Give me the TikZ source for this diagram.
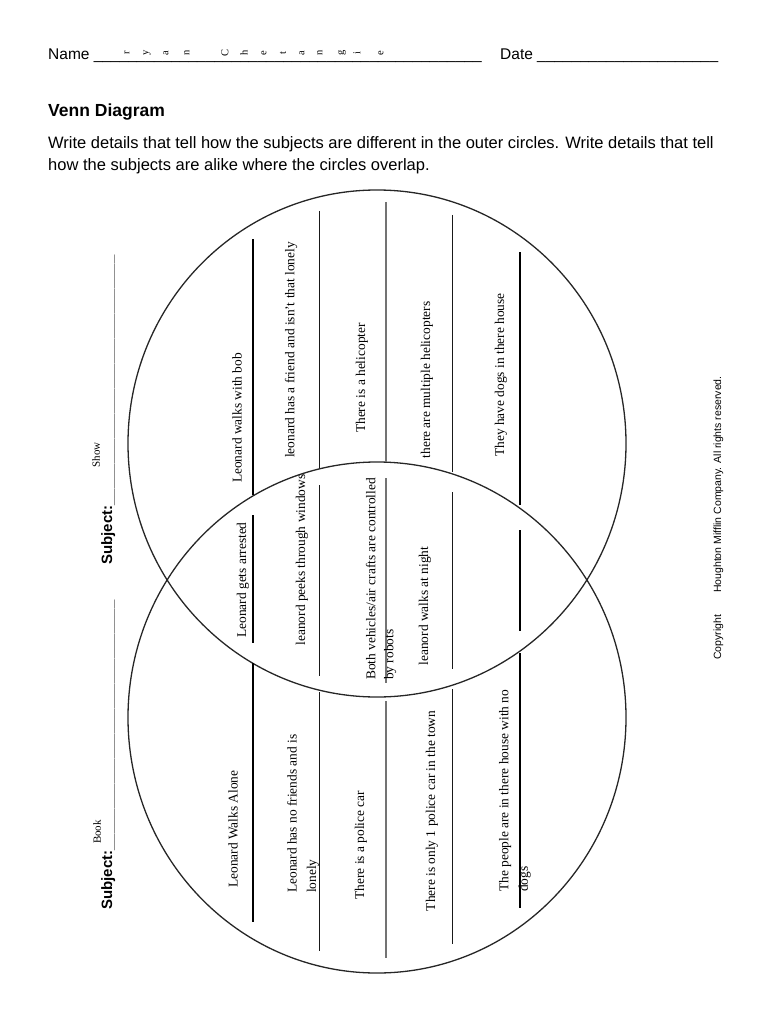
\documentclass[tikz,border=0pt]{standalone}
\usepackage{fontspec}
\setmainfont{Liberation Serif}
\setsansfont{Liberation Sans}
\begin{document}
\begin{tikzpicture}[x=1pt,y=-1pt,
  hdr/.style={font=\sffamily\fontsize{15.5}{19}\selectfont, anchor=base west, inner sep=0},
  ins/.style={font=\sffamily\fontsize{16.5}{20}\selectfont, anchor=base west, inner sep=0},
  ttl/.style={font=\sffamily\bfseries\fontsize{17.5}{20}\selectfont, anchor=base west, inner sep=0},
  hand/.style={font=\rmfamily\fontsize{13.4}{18}\selectfont, rotate=90, inner sep=0},
  hand2/.style={font=\rmfamily\fontsize{13.4}{19.5}\selectfont, rotate=90, inner sep=0, align=left, anchor=west},
  nl/.style={font=\rmfamily\fontsize{10.5}{11}\selectfont, rotate=90, inner sep=0},
  subj/.style={font=\sffamily\fontsize{15}{18}\selectfont, rotate=90, inner sep=0, anchor=base west},
  fill/.style={font=\rmfamily\fontsize{11}{13}\selectfont, rotate=90, inner sep=0},
  circ/.style={draw=black!85, line width=1.3pt},
  thickln/.style={draw=black, line width=2.2pt},
  thinln/.style={draw=black!90, line width=1pt},
  grayln/.style={draw=black!55, line width=1.6pt},
  copy/.style={font=\sffamily\fontsize{10.5}{12}\selectfont, rotate=90, inner sep=0, anchor=base west}
]
\useasboundingbox (0,0) rectangle (768,1024);

% header
\node[hdr] (name) at (48,60) {Name \_\_\_\_\_\_\_\_\_\_\_\_\_\_\_\_\_\_\_\_\_\_\_\_\_\_\_\_\_\_\_\_\_\_\_\_\_\_\_\_\_\_\_\_\_};
\node[hdr] (date) at (500,60) {Date \_\_\_\_\_\_\_\_\_\_\_\_\_\_\_\_\_\_\_\_\_};
\foreach \xx/\ch [count=\i] in {127/r,147/y,166/a,187/n,225/C,244/h,264/e,283/t,302/a,320/n,342/g,357/i,381/e}
  \node[nl] (nm\i) at (\xx,53) {\ch};

\node[ttl] (title) at (48,117) {Venn Diagram};
\node[ins] (ins1) at (48,149) {Write details that tell how the subjects are different in the outer circles. Write details that tell};
\node[ins] (ins2) at (48,171) {how the subjects are alike where the circles overlap.};

% circles
\draw[circ] (377,443.5) ellipse [x radius=249pt, y radius=253.5pt];
\draw[circ] (377,717.5) ellipse [x radius=249pt, y radius=255.5pt];

% lines: x = 253 thick
\draw[thickln] (253,239) -- (253,495);
\draw[thickln] (253,515) -- (253,643);
\draw[thickln] (253,663) -- (253,922);
% x = 319 thin
\draw[thinln] (319,211) -- (319,468);
\draw[thinln] (319,485) -- (319,676);
\draw[thinln] (319,692) -- (319,951);
% x = 386 gray
\draw[grayln] (386,202) -- (386,462);
\draw[grayln] (386,478) -- (386,683);
\draw[grayln] (386,701) -- (386,958);
% x = 452 thin
\draw[thinln] (452,215) -- (452,472);
\draw[thinln] (452,492) -- (452,669);
\draw[thinln] (452,689) -- (452,944);
% x = 520 thick
\draw[thickln] (520,252) -- (520,505);
\draw[thickln] (520,530) -- (520,631);
\draw[thickln] (520,653) -- (520,908);

% upper texts
\node[hand] (u1) at (237,418) {Leonard walks with bob};
\node[hand] (u2) at (291,350) {leonard has a friend and isn't that lonely};
\node[hand] (u3) at (362,378) {There is a helicopter};
\node[hand] (u4) at (427,380) {there are multiple helicopters};
\node[hand] (u5) at (501,375) {They have dogs in there house};
% lens texts
\node[hand] (m1) at (243,580) {Leonard gets arrested};
\node[hand] (m2) at (302,560) {leanord peeks through windows};
\node[hand2, font=\rmfamily\fontsize{13.4}{18}\selectfont] (m3) at (381,680) {Both vehicles/air crafts are controlled\\by robots};
\node[hand] (m4) at (425,606) {leanord walks at night};
% lower texts
\node[hand] (l1) at (233,829) {Leonard Walks Alone};
\node[hand2] (l2) at (303,893) {Leonard has no friends and is\\lonely};
\node[hand] (l3) at (361,845) {There is a police car};
\node[hand] (l4) at (432,811) {There is only 1 police car in the town};
\node[hand2] (l5) at (515,892) {The people are in there house with no\\dogs};

% subjects
\node[subj] (s1) at (112,565) {\textbf{Subject:}\textcolor{black!45}{\_\_\_\_\_\_\_\_\_\_\_\_\_\_\_\_\_\_\_\_\_\_\_\_\_\_\_\_\_\_}};
\node[fill] (show) at (96,455) {Show};
\node[subj] (s2) at (112,910) {\textbf{Subject:}\textcolor{black!45}{\_\_\_\_\_\_\_\_\_\_\_\_\_\_\_\_\_\_\_\_\_\_\_\_\_\_\_\_\_\_}};
\node[fill] (book) at (97,832) {Book};

% copyright
\node[copy] (cr) at (721,660) {Copyright\hspace{22pt}Houghton Mifflin Company. All rights reserved.};
\end{tikzpicture}
\end{document}
